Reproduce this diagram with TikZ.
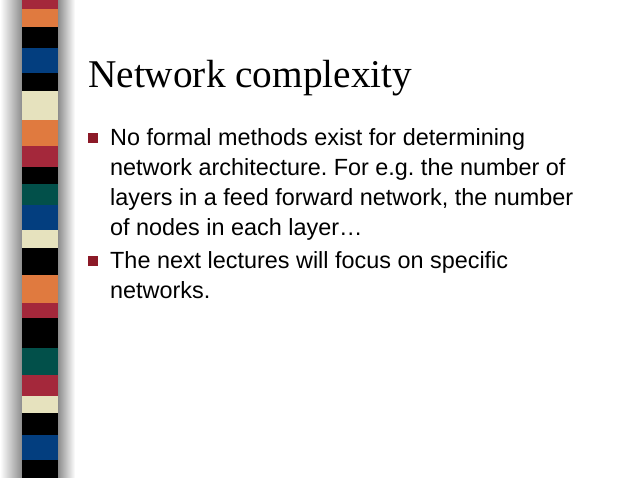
\documentclass[tikz,border=0pt]{standalone}
\usepackage{fontspec}
\setmainfont{Liberation Serif}
\newfontfamily\arial{Liberation Sans}
\frenchspacing
\begin{document}
\begin{tikzpicture}[x=1pt,y=-1pt,
 body/.style={anchor=base west,inner sep=0pt,font=\arial\fontsize{23.4}{30}\selectfont},
 bul/.style={fill=bulred,minimum size=9.5pt,inner sep=0pt}]
\definecolor{sred}{HTML}{A4283B}\definecolor{sorange}{HTML}{E07A3F}
\definecolor{sblue}{HTML}{033E7F}\definecolor{scream}{HTML}{E6E2BE}
\definecolor{sgreen}{HTML}{02504A}\definecolor{bulred}{HTML}{8C1A28}
\useasboundingbox[fill=white] (0,0) rectangle (638,478);
\shade[left color=white,right color=black!45] (0,0) rectangle (22,478);
\shade[left color=black!45,right color=white] (58,0) rectangle (75,478);
\foreach \a/\b/\c in {0/9/sred,9/27/sorange,27/48/black,48/73/sblue,73/91/black,91/120/scream,120/146/sorange,146/167/sred,167/184/black,184/205/sgreen,205/230/sblue,230/248/scream,248/275/black,275/303/sorange,303/318/sred,318/348/black,348/375/sgreen,375/396/sred,396/413/scream,413/435/black,435/460/sblue,460/478/black}
  \fill[\c] (22,\a) rectangle (58,\b);
\node[anchor=base west,inner sep=0pt,font=\fontsize{39.3}{44}\selectfont] (title) at (88,88) {Network complexity};
\node[bul] (b1) at (93,138) {};
\node[body] (t1) at (110,146) {No formal methods exist for determining};
\node[body] (t2) at (110,176) {network architecture. For e.g. the number of};
\node[body] (t3) at (110,206) {layers in a feed forward network, the number};
\node[body] (t4) at (110,236) {of nodes in each layer…};
\node[bul] (b2) at (93,261) {};
\node[body] (t5) at (110,269) {The next lectures will focus on specific};
\node[body] (t6) at (110,299) {networks.};
\end{tikzpicture}
\end{document}
